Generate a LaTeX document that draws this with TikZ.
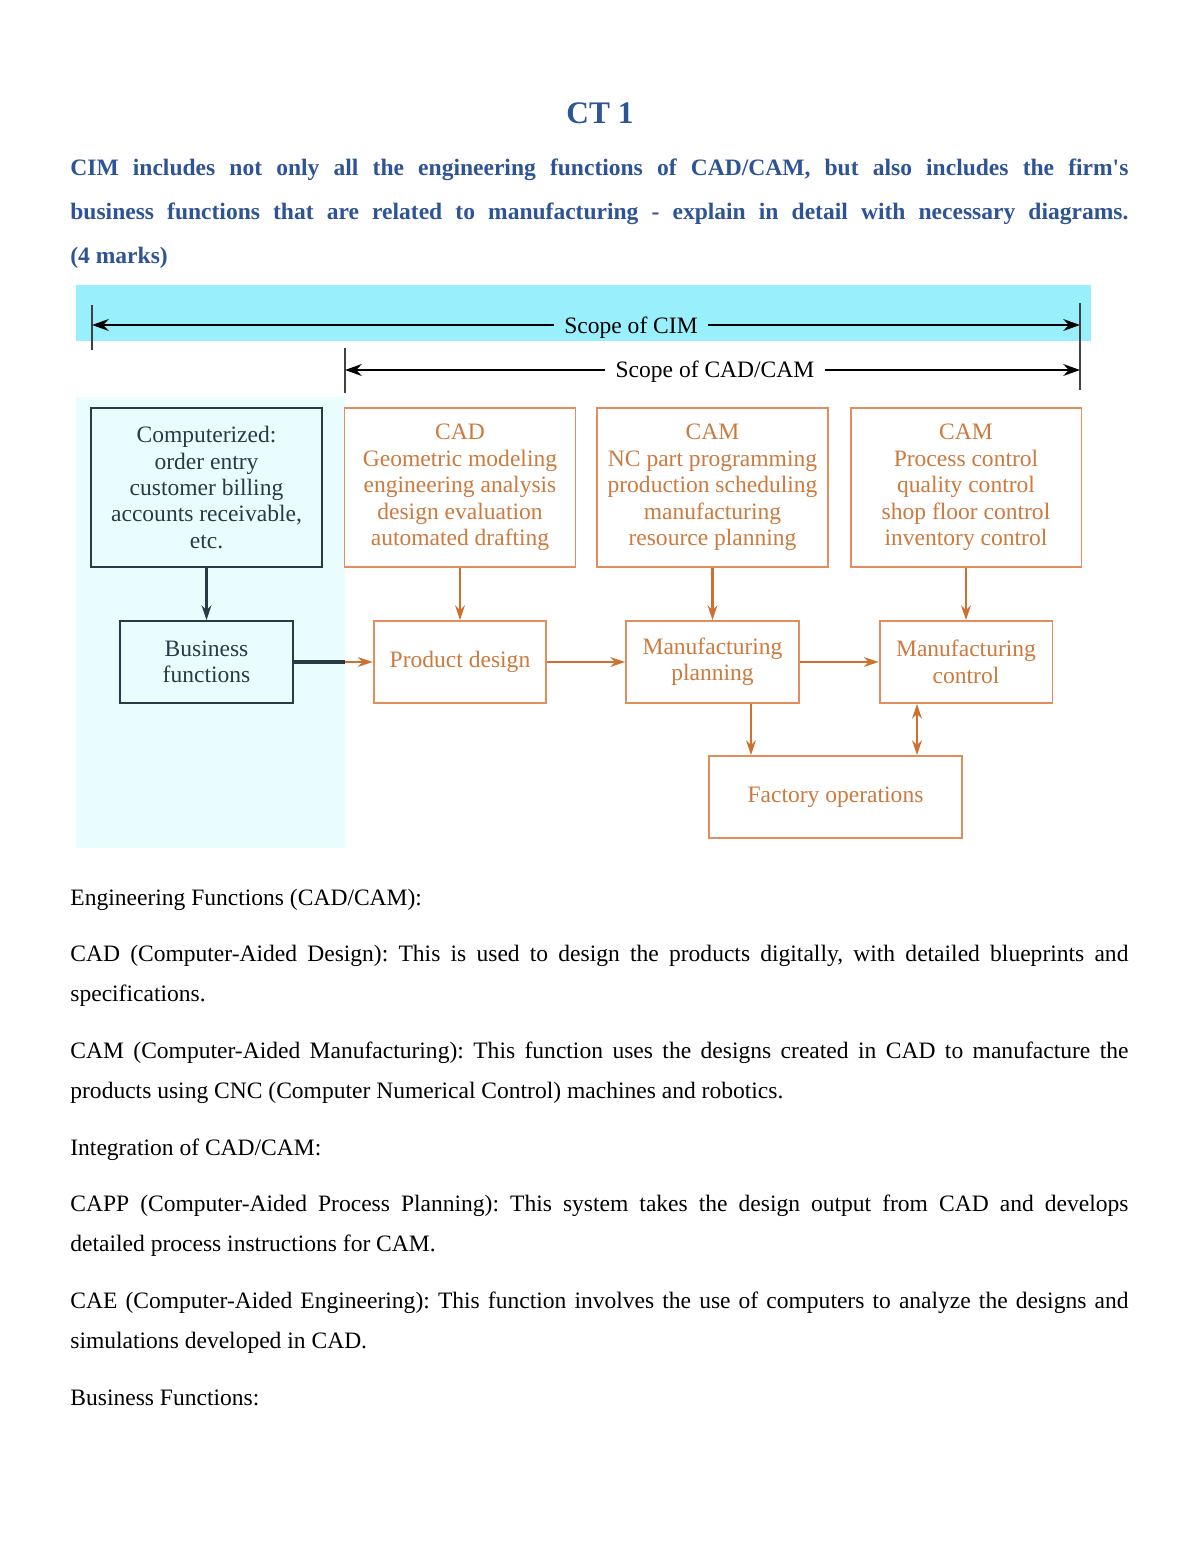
\documentclass[tikz,border=0pt]{standalone}
\usepackage{fontspec}
\setmainfont{Liberation Serif}
\usetikzlibrary{arrows.meta,positioning}

\definecolor{cimband}{RGB}{153,240,252}
\definecolor{bizarea}{RGB}{233,253,255}
\definecolor{bizline}{RGB}{40,58,70}
\definecolor{camline}{RGB}{226,142,92}
\definecolor{camtext}{RGB}{204,122,62}
\definecolor{camarrow}{RGB}{205,112,48}
\definecolor{titleblue}{RGB}{47,84,150}

\begin{document}
\frenchspacing
\begin{tikzpicture}[x=0.51pt, y=-0.51pt,
  bizbox/.style={draw=bizline, line width=1pt, align=center, inner sep=0pt,
    text=bizline, font=\fontsize{12}{13.5}\selectfont},
  cambox/.style={draw=camline, line width=1pt, align=center, inner sep=0pt,
    text=camtext, font=\fontsize{12}{13.5}\selectfont},
  widebox/.style={minimum width=117.8pt, minimum height=81.1pt},
  smallbox/.style={minimum width=88.2pt, minimum height=41.8pt},
  scopelbl/.style={anchor=base, inner xsep=5pt, font=\fontsize{12}{14}\selectfont},
  scopearrow/.style={line width=1.3pt, -{Stealth[length=8.5pt,width=6pt]}},
  tickline/.style={line width=0.6pt, black!75},
  bizarrow/.style={draw=bizline, line width=1.1pt, -{Stealth[length=7.5pt,width=5pt]}},
  flowarrow/.style={draw=camarrow, line width=1.2pt, -{Stealth[length=7.5pt,width=5pt]}},
  para/.style={anchor=base west, text width=539.6pt, inner sep=0pt, align=justify,
    font=\fontsize{12}{20.9}\selectfont}]

\fill[white] (0,0) rectangle (1200,1553);
\useasboundingbox (0,0) rectangle (1200,1553);

% heading and question
\node[anchor=base, text=titleblue, font=\bfseries\fontsize{16}{19}\selectfont] (title) at (600,124) {CT 1};
\node[para, text=titleblue, font=\bfseries\fontsize{12}{22.4}\selectfont] (question) at (70,176)
  {CIM includes not only all the engineering functions of CAD/CAM, but also includes the firm\textquotesingle s\linebreak
   business functions that are related to manufacturing - explain in detail with necessary diagrams.\linebreak
   (4 marks)};

% shaded areas
\fill[cimband] (76,285) rectangle (1091,341);
\fill[bizarea] (76,397) rectangle (345,848);

% scope lines
\coordinate (cimL) at (92,325);
\coordinate (cimR) at (1080,325);
\coordinate (ccL) at (345,370);
\coordinate (ccR) at (1080,370);
\draw[tickline] (92,305) -- (92,350);
\draw[tickline] (345,348) -- (345,393);
\draw[tickline] (1080,303) -- (1080,390);

\node[scopelbl] (cimlbl) at (631,333) {Scope of CIM};
\node[scopelbl] (cclbl) at (715,377) {Scope of CAD/CAM};
\draw[scopearrow] (cimlbl.west |- cimL) -- (cimL);
\draw[scopearrow] (cimlbl.east |- cimR) -- (cimR);
\draw[scopearrow] (cclbl.west |- ccL) -- (ccL);
\draw[scopearrow] (cclbl.east |- ccR) -- (ccR);

% top row
\node[bizbox, widebox] (comp) at (206.5,487.5)
  {Computerized:\\order entry\\customer billing\\accounts receivable,\\etc.};
\node[cambox, widebox] (cad) at (460,487.5)
  {CAD\\Geometric modeling\\engineering analysis\\design evaluation\\automated drafting};
\node[cambox, widebox] (cama) at (712.5,487.5)
  {CAM\\NC part programming\\production scheduling\\manufacturing\\resource planning};
\node[cambox, widebox] (camb) at (966,487.5)
  {CAM\\Process control\\quality control\\shop floor control\\inventory control};

% middle row
\node[bizbox, smallbox] (bus) at (206.5,662) {Business\\functions};
\node[cambox, smallbox] (prod) at (460,662) {Product design};
\node[cambox, smallbox] (mplan) at (712.5,662) {Manufacturing\\planning};
\node[cambox, smallbox] (mctrl) at (966,662) {Manufacturing\\control};

% bottom
\node[cambox, minimum width=129pt, minimum height=41.8pt] (fact) at (835.5,797) {Factory operations};

% connections
\coordinate (split) at (345,662);
\coordinate (fx) at (751,0);
\coordinate (cx) at (917,0);

\draw[bizarrow] (comp) -- (bus);
\draw[flowarrow] (cad) -- (prod);
\draw[flowarrow] (cama) -- (mplan);
\draw[flowarrow] (camb) -- (mctrl);

\draw[draw=bizline, line width=1.6pt] (bus) -- (split);
\draw[flowarrow] (split) -- (prod);
\draw[flowarrow] (prod) -- (mplan);
\draw[flowarrow] (mplan) -- (mctrl);
\draw[flowarrow] (mplan.south -| fx) -- (fact.north -| fx);
\draw[flowarrow, {Stealth[length=7.5pt,width=5pt]}-{Stealth[length=7.5pt,width=5pt]}] (mctrl.south -| cx) -- (fact.north -| cx);

% text below the diagram
\node[para] (eng) at (70,905) {Engineering Functions (CAD/CAM):};
\node[para] (cadtxt) at (70,961)
  {CAD (Computer-Aided Design): This is used to design the products digitally, with detailed blueprints and\linebreak
   specifications.};
\node[para] (camtxt) at (70,1058)
  {CAM (Computer-Aided Manufacturing): This function uses the designs created in CAD to manufacture the\linebreak
   products using CNC (Computer Numerical Control) machines and robotics.};
\node[para] (integ) at (70,1155) {Integration of CAD/CAM:};
\node[para] (capp) at (70,1211)
  {CAPP (Computer-Aided Process Planning): This system takes the design output from CAD and develops\linebreak
   detailed process instructions for CAM.};
\node[para] (cae) at (70,1308)
  {CAE (Computer-Aided Engineering): This function involves the use of computers to analyze the designs and\linebreak
   simulations developed in CAD.};
\node[para] (bizf) at (70,1405) {Business Functions:};

\end{tikzpicture}
\end{document}
